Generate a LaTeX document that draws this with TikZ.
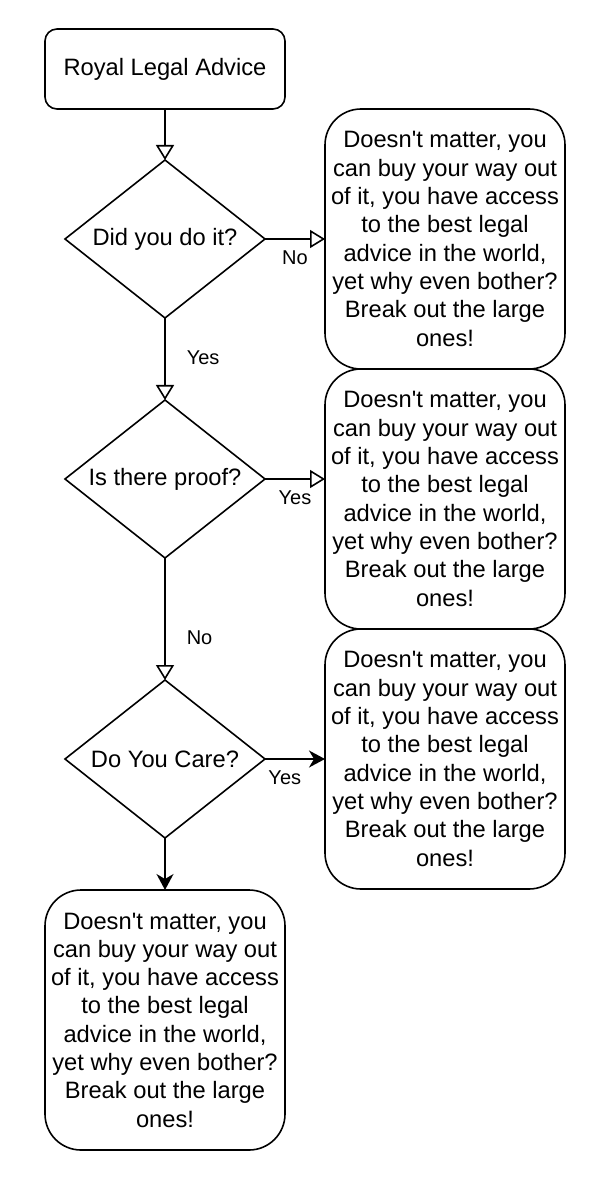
\documentclass[tikz,border=0pt]{standalone}
\usepackage{fontspec}
\setmainfont{Liberation Sans}
\usetikzlibrary{positioning,shapes.geometric,arrows.meta}
\newcommand{\advicetext}{Doesn\textquotesingle t matter, you\\can buy your way out\\of it, you have access\\to the best legal\\advice in the world,\\yet why even bother?\\Break out the large\\ones!}

\begin{document}
\begin{tikzpicture}[
  font=\fontsize{23.7pt}{28.3pt}\selectfont, line width=1.6pt,
  start/.style={draw, rounded corners=12pt, align=center, minimum width=240pt, minimum height=80pt, inner sep=0pt, outer sep=0pt},
  answer/.style={draw, rounded corners=36pt, align=center, minimum width=240pt, minimum height=260pt, inner sep=0pt, outer sep=0pt},
  decision/.style={draw, diamond, aspect=1.27, minimum width=200pt, minimum height=158pt, inner sep=0pt, outer sep=0pt},
  open/.style={-{Triangle[open, length=15pt, width=18pt, line width=1.6pt]}},
  solid/.style={-{Stealth[length=16pt, width=17pt, inset=5pt]}},
  lab/.style={font=\fontsize{20pt}{24pt}\selectfont, inner sep=1pt}]
\useasboundingbox (0,0) rectangle (598pt,-1180pt);
\node[start] (advice) at (165pt,-69pt) {Royal Legal Advice};
\node[decision, below=51pt of advice] (did) {Did you do it?};
\node[decision, below=82pt of did] (proof) {Is there proof?};
\node[decision, below=122pt of proof] (care) {Do You Care?};
\node[answer, below=52pt of care] (final) {\advicetext};
\node[answer, right=60pt of did] (outA) {\advicetext};
\node[answer, below=0pt of outA] (outB) {\advicetext};
\node[answer, below=0pt of outB] (outC) {\advicetext};
\draw[open] (advice) -- (did);
\draw[open] (did) -- node[lab, right=20pt, pos=0.48]{Yes} (proof);
\draw[open] (proof) -- node[lab, right=20pt, pos=0.65]{No} (care);
\draw[solid] (care) -- (final);
\draw[open] (did) -- node[lab, below=10pt, pos=0.5]{No} (outA);
\draw[open] (proof.east) -- node[lab, below=10pt, pos=0.5]{Yes} (proof.east -| outB.west);
\draw[solid] (care) -- node[lab, below=10pt, pos=0.33]{Yes} (outC);
\end{tikzpicture}
\end{document}
